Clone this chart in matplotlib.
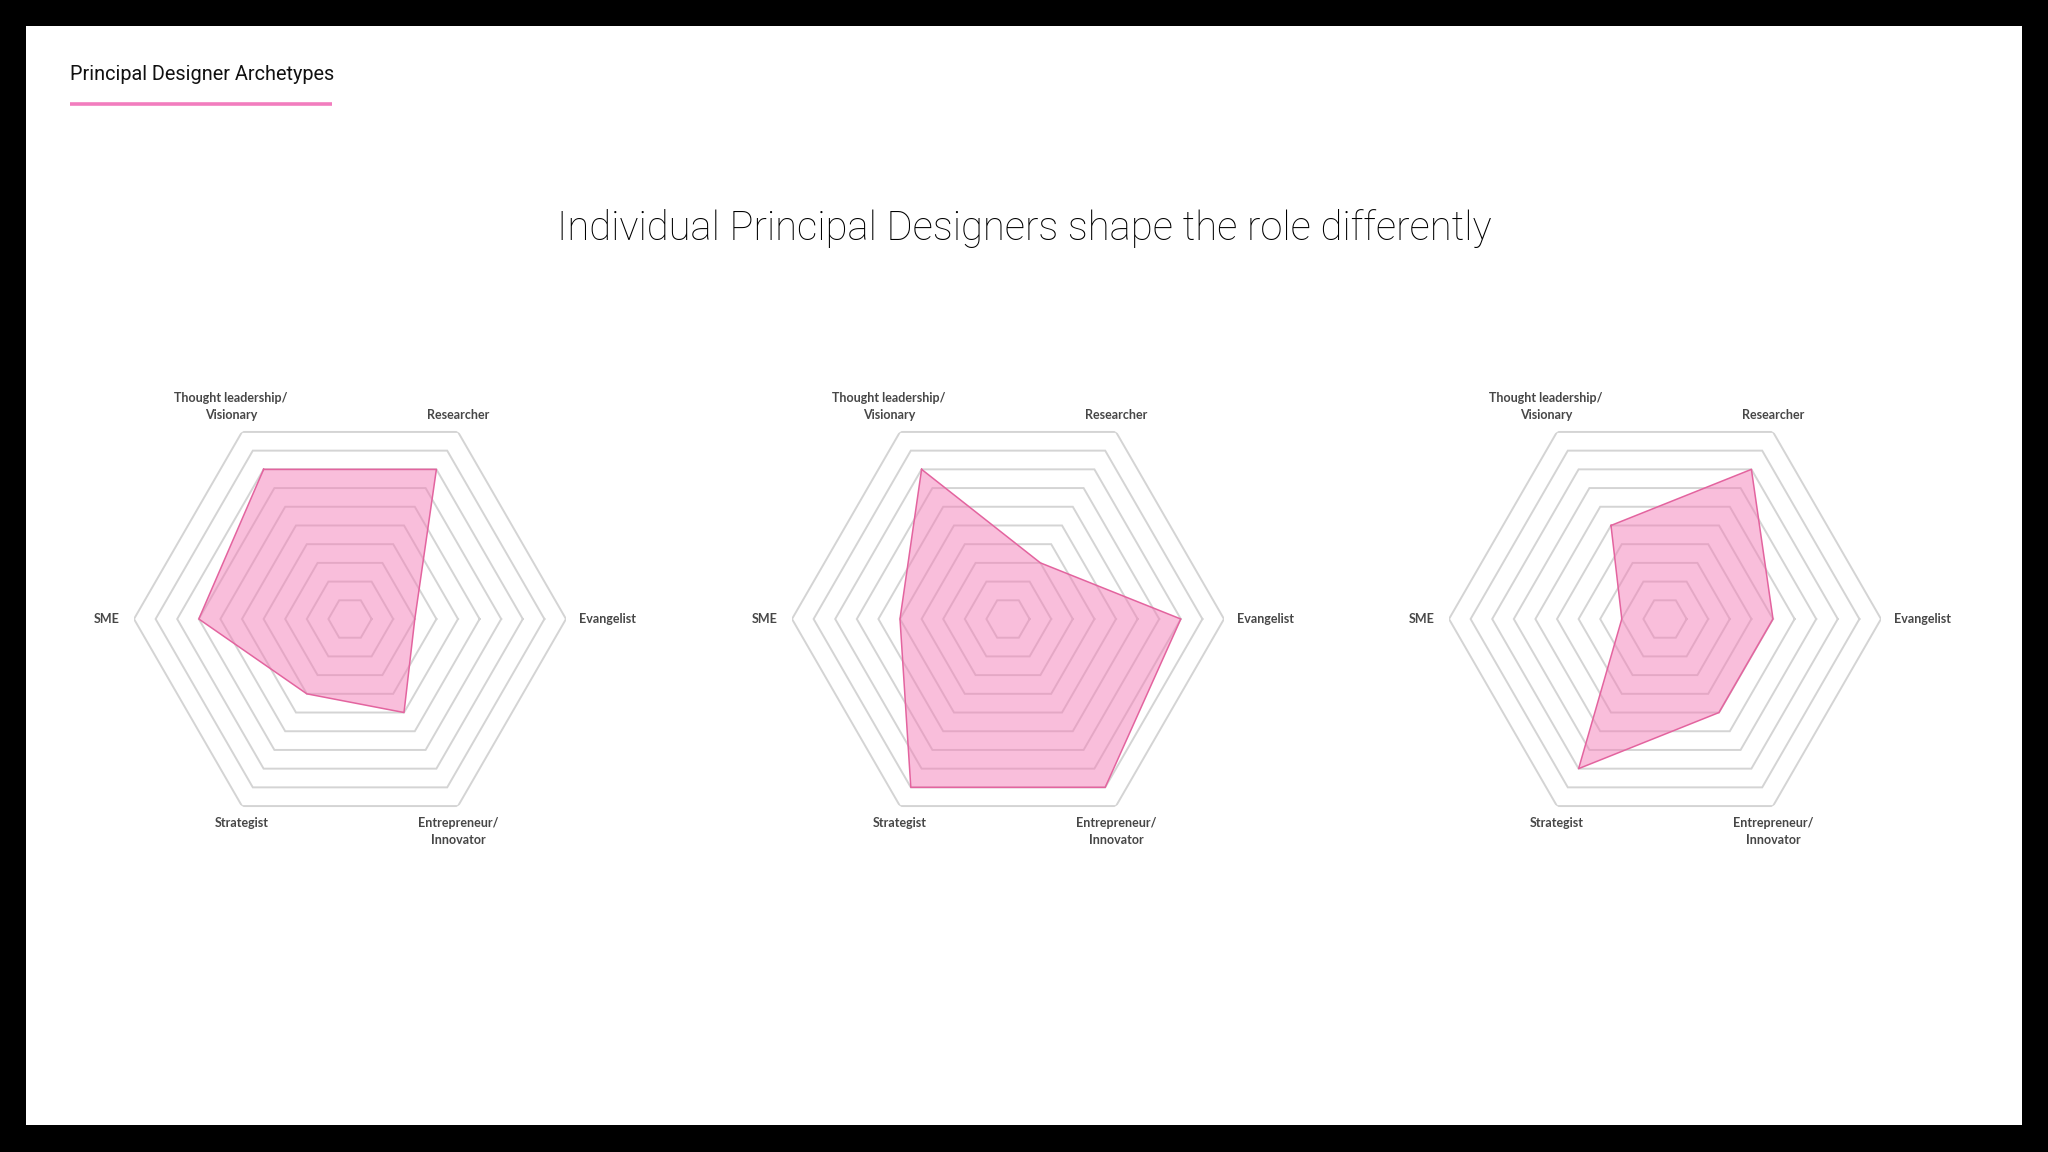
import numpy as np
import matplotlib
matplotlib.use("Agg")
import matplotlib.pyplot as plt
from matplotlib.patches import Rectangle
from matplotlib.lines import Line2D


# Axis labels, counter-clockwise order starting at the top-left spoke
CATEGORIES = ["Thought leadership/\nVisionary", "Researcher", "Evangelist",
              "Entrepreneur/\nInnovator", "Strategist", "SME"]
ANGLES_DEG = [120, 60, 0, -60, -120, 180]

# Scores (0-10)
designer_1 = [8, 8, 3, 5, 4, 7]
designer_2 = [8, 3, 8, 9, 9, 5]
designer_3 = [5, 8, 5, 5, 8, 2]
DESIGNERS = [designer_1, designer_2, designer_3]

LEVELS = list(range(1, 11))

HEADER = "Principal Designer Archetypes"
TITLE = "Individual Principal Designers shape the role differently"

PINK = "#F47EB8"
EDGE = "#E3649F"
GRID = "#D4D4D4"
LABEL_COLOR = "#474747"

W, H = 2048, 1152

# label placement: (dx, dy) in pixels, ha, va
LABEL_STYLE = {
    120: ((-11, 11), "center", "bottom"),
    60: ((0, 11), "center", "bottom"),
    0: ((13, 0), "left", "center"),
    -60: ((0, -11), "center", "top"),
    -120: ((0, -11), "center", "top"),
    180: ((-14, 0), "right", "center"),
}


def radar(fig, cx, cy, r_px, values):
    ax = fig.add_axes([(cx - r_px) / W, (H - cy - r_px) / H, 2 * r_px / W, 2 * r_px / H],
                      projection="polar")
    ax.set_facecolor("none")
    ax.grid(False)
    ax.spines["polar"].set_visible(False)
    ax.set_xticks([])
    ax.set_yticks([])
    ax.set_ylim(0, 10)

    theta = np.deg2rad(ANGLES_DEG)
    ring_theta = np.deg2rad(np.arange(0, 361, 60))

    for lvl in LEVELS:
        ax.plot(ring_theta, [lvl] * len(ring_theta), color=GRID, lw=1.4, zorder=1,
                solid_joinstyle="miter")

    t = np.append(theta, theta[0])
    v = np.append(values, values[0])
    ax.fill(t, v, color=PINK, alpha=0.5, lw=0, zorder=2)
    ax.plot(t, v, color=EDGE, lw=1.1, zorder=3)

    for ang, lab in zip(ANGLES_DEG, CATEGORIES):
        (dx, dy), ha, va = LABEL_STYLE[ang]
        ax.annotate(lab, xy=(np.deg2rad(ang), 10), xytext=(dx, dy),
                    textcoords="offset pixels", ha=ha, va=va, multialignment="center",
                    fontsize=9, fontweight="bold", color=LABEL_COLOR,
                    family=["Lato", "DejaVu Sans"], linespacing=1.45,
                    annotation_clip=False)
    return ax


fig = plt.figure(figsize=(W / 100, H / 100), dpi=100)
fig.patch.set_facecolor("black")

# white slide area
fig.patches.append(Rectangle((26 / W, 1 - 1125 / H), 1996 / W, 1099 / H,
                             transform=fig.transFigure, facecolor="white",
                             edgecolor="none", zorder=-10))

fig.text(70 / W, 1 - 74 / H, HEADER, ha="left", va="center", fontsize=14.3,
         family=["Roboto", "DejaVu Sans"], color="#111111")
fig.lines.append(Line2D([70 / W, 332 / W], [1 - 103.5 / H, 1 - 103.5 / H],
                        transform=fig.transFigure, color="#F27DBE", lw=2.6,
                        solid_capstyle="butt"))

fig.text(0.5, 1 - 229 / H, TITLE, ha="center", va="center", fontsize=28.8,
         fontweight="light", family=["Roboto", "DejaVu Sans"], color="#000000")

centers = [350, 1008, 1665]
for cx, vals in zip(centers, DESIGNERS):
    radar(fig, cx, 619, 216, vals)

fig.savefig("out.png", dpi=100, facecolor=fig.get_facecolor())
